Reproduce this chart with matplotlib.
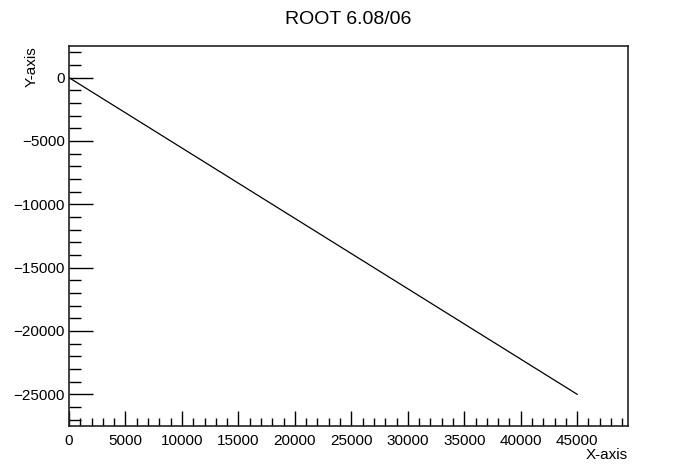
import numpy as np
import matplotlib.pyplot as plt
from matplotlib.ticker import MultipleLocator

plt.rcParams['font.family'] = ['Liberation Sans', 'DejaVu Sans']

# graph points
x = [0, 45000]
y = [0, -25000]

fig = plt.figure(figsize=(6.98, 4.75), dpi=100)
ax = fig.add_axes([0.0989, 0.1032, 0.8008, 0.8])

ax.plot(x, y, color='black', linewidth=0.9)

ax.set_xlim(0, 49500)
ax.set_ylim(-27500, 2500)

ax.xaxis.set_major_locator(MultipleLocator(5000))
ax.xaxis.set_minor_locator(MultipleLocator(1000))
ax.yaxis.set_major_locator(MultipleLocator(5000))
ax.yaxis.set_minor_locator(MultipleLocator(1000))

ax.tick_params(axis='x', which='major', direction='in', length=11, width=1, pad=6,
               labelsize=11, top=False)
ax.tick_params(axis='x', which='minor', direction='in', length=5.5, width=1, top=False)
ax.tick_params(axis='y', which='major', direction='in', length=17, width=1, pad=3,
               labelsize=11, right=False)
ax.tick_params(axis='y', which='minor', direction='in', length=8.5, width=1, right=False)

for s in ax.spines.values():
    s.set_linewidth(1.2)
    s.set_color('#222222')

ax.set_title('ROOT 6.08/06', fontsize=14, pad=16)
ax.set_xlabel('X-axis', fontsize=11, loc='right', labelpad=0)
# y label sits top-aligned to the frame, ROOT style
fig.text(32 / 698, 1 - 46 / 475, 'Y-axis', fontsize=11, rotation=90,
         ha='center', va='top')

fig.savefig('out.png', dpi=100)
